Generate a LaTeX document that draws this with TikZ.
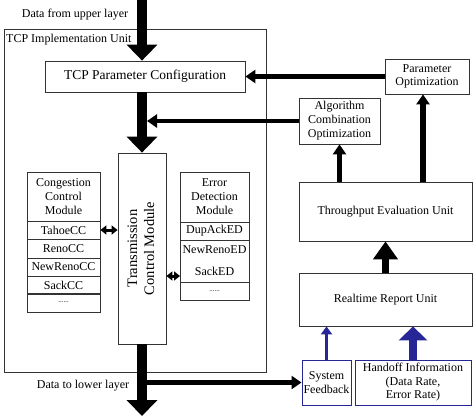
\documentclass[tikz,border=0pt]{standalone}
\usepackage{fontspec}
\setmainfont{Liberation Serif}
\usetikzlibrary{arrows.meta,positioning}
\definecolor{feedblue}{RGB}{38,38,150}

\begin{document}
\begin{tikzpicture}[x=1pt,y=-1pt,
    unit box/.style={draw=black!80,line width=0.8pt,align=center,inner sep=1pt,
      font=\fontsize{12}{14}\selectfont},
    blue box/.style={unit box,draw=feedblue,line width=1pt},
    plain text/.style={inner sep=0pt,font=\fontsize{12}{14}\selectfont},
    big arrow/.style={line width=10pt,-{Triangle[width=30pt,length=16pt]}},
    mid arrow/.style={line width=7pt,-{Triangle[width=24pt,length=18pt]}},
    thin arrow/.style={line width=4.5pt,-{Triangle[width=13pt,length=10pt]}},
    link arrow/.style={line width=3pt,{Triangle[width=9pt,length=6pt]}-{Triangle[width=9pt,length=6pt]}}]

  \useasboundingbox (0,0) rectangle (474,416);

  % TCP implementation unit
  \node[unit box,minimum width=262pt,minimum height=343pt] (impl) at (135,200.5) {};
  \node[plain text,anchor=west] (impltxt) at (6,40) {TCP Implementation Unit};
  \node[plain text] (uptxt) at (75,15) {Data from upper layer};
  \node[plain text] (lowtxt) at (83,386) {Data to lower layer};

  \node[unit box,minimum width=200pt,minimum height=31pt,font=\fontsize{13.5}{15}\selectfont] (cfg) at (145,76.5) {TCP Parameter Configuration};
  \node[unit box,minimum width=48pt,minimum height=191pt] (tcm) at (142,248.5)
    {\rotatebox{90}{\fontsize{14.5}{18}\selectfont\begin{tabular}{@{}c@{}}Transmission\\[-1pt]Control Module\end{tabular}}};

  % congestion control module
  \node[unit box,minimum width=73pt,minimum height=49pt] (cchead) at (63.5,196.5) {Congestion\\Control\\Module};
  \node[unit box,minimum width=73pt,minimum height=18pt] (cc1) at (63.5,230) {TahoeCC};
  \node[unit box,minimum width=73pt,minimum height=19pt] (cc2) at (63.5,248.5) {RenoCC};
  \node[unit box,minimum width=73pt,minimum height=18pt] (cc3) at (63.5,267) {NewRenoCC};
  \node[unit box,minimum width=73pt,minimum height=18pt] (cc4) at (63.5,285) {SackCC};
  \node[unit box,minimum width=73pt,minimum height=19pt,font=\fontsize{7}{8}\selectfont] (cc5) at (63.5,302.5) {......};

  % error detection module
  \node[unit box,minimum width=69pt,minimum height=50pt] (edhead) at (214.5,197) {Error\\Detection\\Module};
  \node[unit box,minimum width=69pt,minimum height=18pt] (ed1) at (214.5,231) {DupAckED};
  \node[unit box,minimum width=69pt,minimum height=42pt,font=\fontsize{12}{22}\selectfont] (ed2) at (214.5,261) {NewRenoED\\SackED};
  \node[unit box,minimum width=69pt,minimum height=18pt,font=\fontsize{7}{8}\selectfont] (ed3) at (214.5,291) {......};

  % optimisation and evaluation side
  \node[unit box,minimum width=84pt,minimum height=35pt,font=\fontsize{12}{13}\selectfont] (popt) at (427,76.5) {Parameter\\Optimization};
  \node[unit box,minimum width=81pt,minimum height=46pt] (alg) at (339.5,121) {Algorithm\\Combination\\Optimization};
  \node[unit box,minimum width=173pt,minimum height=59pt] (thr) at (385.5,211.5) {Throughput Evaluation Unit};
  \node[unit box,minimum width=173pt,minimum height=53pt] (rt) at (385.5,299.5) {Realtime Report Unit};
  \node[blue box,minimum width=49pt,minimum height=45pt,font=\fontsize{12}{13.5}\selectfont] (sfb) at (326.5,382.5) {System\\Feedback};
  \node[blue box,minimum width=116pt,minimum height=45pt,font=\fontsize{12}{13.5}\selectfont] (hof) at (413,382.5) {Handoff Information\\(Data Rate,\\Error Rate)};

  \coordinate (in) at (142,0);
  \coordinate (out) at (142,416);
  \coordinate (shaft) at (147,0);
  \coordinate (edlink) at (180,276);

  \path[big arrow]
  (in) edge (in |- cfg.north)
  (cfg.south -| tcm) edge (tcm.north)
  (tcm.south) edge (out);

  \path[thin arrow]
  (popt.west) edge (popt.west -| cfg.east)
  (alg.west) edge (alg.west -| shaft)
  (tcm.south |- sfb.west) edge (sfb.west)
  (thr.north -| alg) edge[line width=5pt] (alg.south)
  (thr.north -| 423,0) edge[line width=6pt] (popt.south -| 423,0);

  \path[mid arrow] (rt.north) edge (thr.south);

  \path[draw=feedblue]
  (sfb.north) edge[thin arrow,line width=3.5pt,draw=feedblue,-{Triangle[width=11pt,length=8pt]}] (sfb.north |- rt.south)
  (hof.north) edge[line width=8pt,draw=feedblue,-{Triangle[width=28pt,length=14pt]}] (hof.north |- rt.south);

  \path[link arrow]
  (cc1.east) edge (cc1.east -| tcm.west)
  (edlink) edge (edlink -| tcm.east);
\end{tikzpicture}
\end{document}
